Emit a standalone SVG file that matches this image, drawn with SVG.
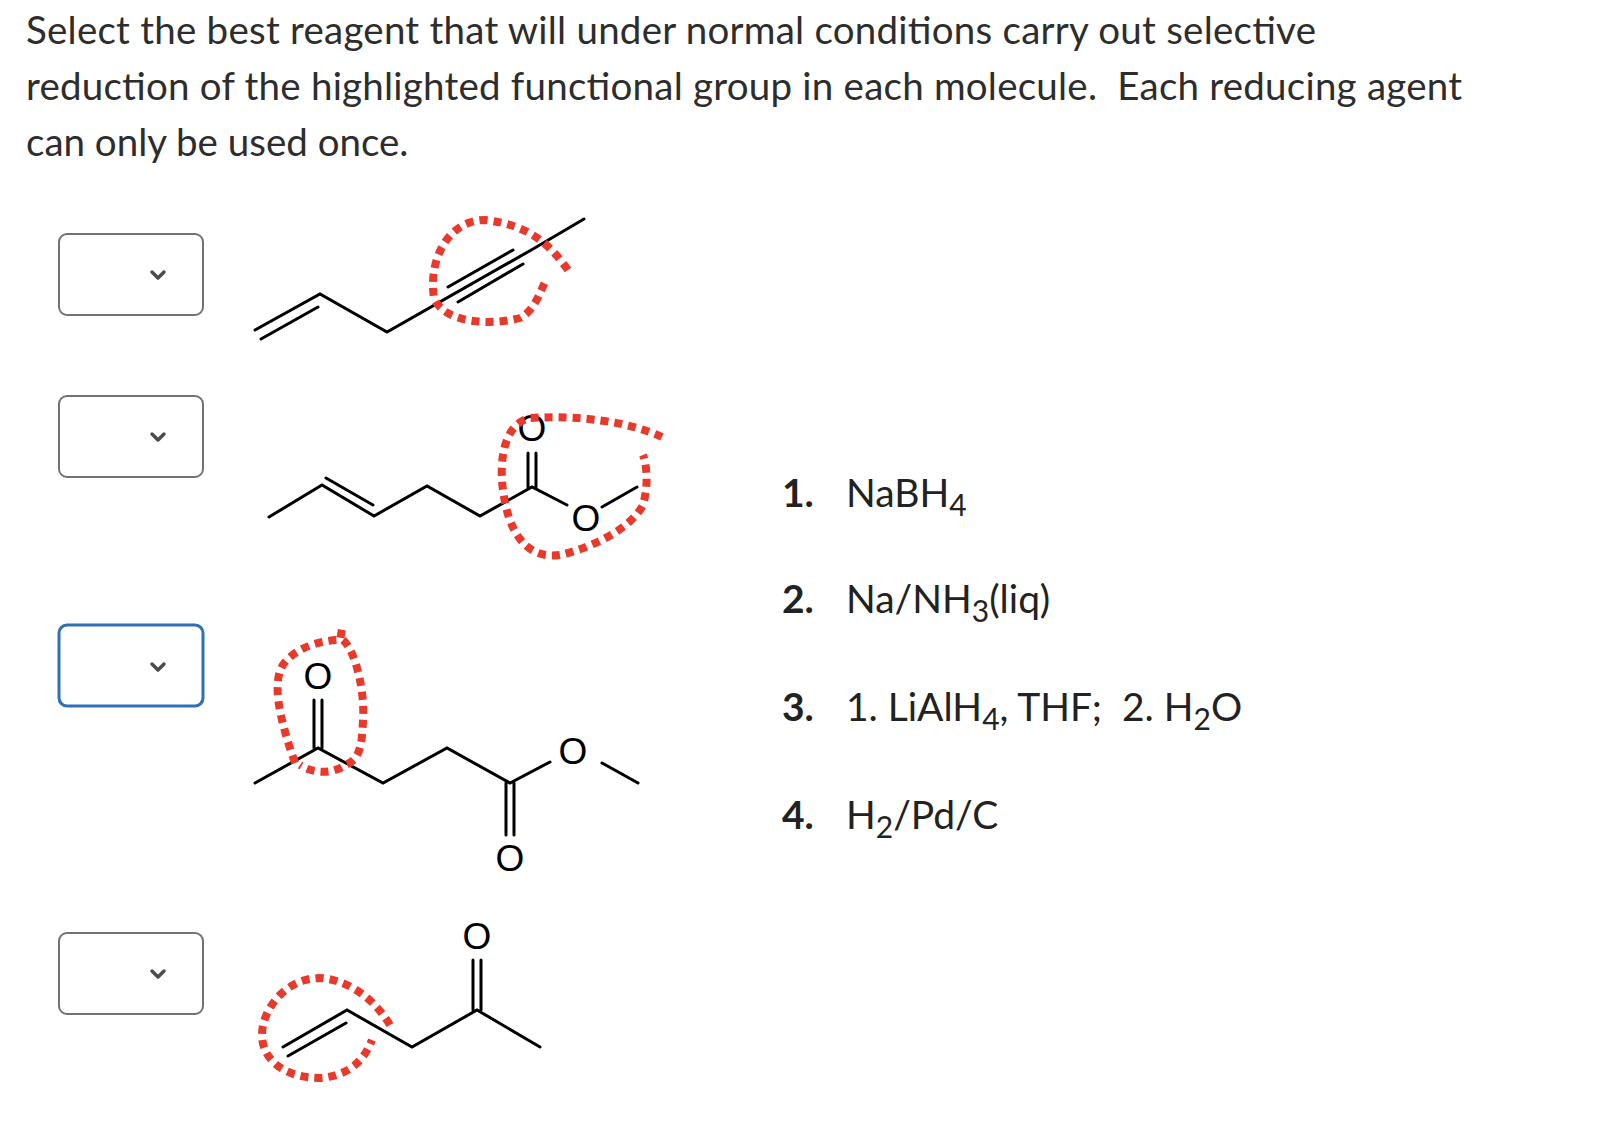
<svg xmlns="http://www.w3.org/2000/svg" width="1624" height="1124" viewBox="0 0 1624 1124">
<style>
.t{font-family:Lato,"Open Sans",sans-serif;font-size:38.5px;fill:#2d2d2d}
.l{font-family:Lato,"Open Sans",sans-serif;font-size:39px;fill:#222}
.n{font-weight:bold}
.b{fill:#fff;stroke:#6f7276;stroke-width:2}
.chev{fill:none;stroke:#494c50;stroke-width:3.5;stroke-linecap:round;stroke-linejoin:round}
.bd{stroke:#000;stroke-width:3;fill:none;stroke-linecap:round}
.o{font-family:"Liberation Sans",Arial,sans-serif;font-size:37px;fill:#000;text-anchor:middle}
.r{fill:none;stroke:#e8392a;stroke-width:8;stroke-dasharray:8 6}
</style>
<rect width="1624" height="1124" fill="#fff"/>
<text class="t" x="26" y="44" textLength="1290" lengthAdjust="spacing">Select the best reagent that will under normal conditions carry out selective</text>
<text class="t" x="26" y="100" textLength="1436" lengthAdjust="spacing">reduction of the highlighted functional group in each molecule.&#160; Each reducing agent</text>
<text class="t" x="26" y="156">can only be used once.</text>

<g id="box1"><rect class="b" x="59" y="234" width="144" height="81" rx="8"/><path class="chev" d="M152 272l6 6 6-6"/></g>
<g id="box2"><rect class="b" x="59" y="396" width="144" height="81" rx="8"/><path class="chev" d="M152 434l6 6 6-6"/></g>
<g id="box3"><rect x="59" y="625" width="144" height="81" rx="8" fill="#fff" stroke="#2f6fba" stroke-width="3"/><path class="chev" d="M152 664l6 6 6-6"/></g>
<g id="box4"><rect class="b" x="59" y="933" width="144" height="81" rx="8"/><path class="chev" d="M152 971l6 6 6-6"/></g>

<g id="mol1">
<path class="bd" d="M255 330L320 294L387 332L533 249L584 219M261 339L318 307M448 287L513 250M458 302L523 264"/>
<path class="r" d="M568 270C550 245 530 225 485 220C448 220 428 260 434 298C445 325 495 325 520 318C535 310 540 292 546 280"/>
</g>
<g id="mol2">
<path class="bd" d="M269 517L322 485L374 516L427 486L480 516L532 487L567 505M326 478L373 505M528 487L528 453M536 487L536 453M602 507L637 487"/>
<text class="o" x="532" y="441">O</text>
<text class="o" x="586" y="531">O</text>
<path class="r" d="M662 437C630 422 580 415 530 418C500 425 500 470 503 490C508 530 525 560 560 555C590 548 630 530 643 505C650 480 645 460 643 455"/>
</g>
<g id="mol3">
<path class="bd" d="M255 783L318 748L383 783L447 748L510 783L550 762M602 763L638 783M314 748L314 700M322 748L322 700M506 783L506 835M514 783L514 835"/>
<text class="o" x="318" y="689">O</text>
<text class="o" x="573" y="764">O</text>
<text class="o" x="510" y="871">O</text>
<path class="r" d="M295 763C280 720 270 680 285 662C300 645 325 640 340 640L343 624M343 640C355 650 365 690 363 720C362 745 360 760 345 765C335 773 315 775 300 765"/>
</g>
<g id="mol4">
<path class="bd" d="M283 1047L347 1010L412 1047L477 1010L540 1047M288 1056L346 1023M473 1010L473 960M481 1010L481 960"/>
<text class="o" x="477" y="949">O</text>
<path class="r" d="M390 1025C375 1000 350 980 320 978C285 978 262 1010 262 1035C262 1060 285 1078 320 1078C345 1076 362 1065 372 1040"/>
</g>

<g id="list">
<text class="l" x="782" y="507"><tspan class="n">1.</tspan><tspan x="846">NaBH</tspan><tspan font-size="30" dy="9">4</tspan></text>
<text class="l" x="782" y="613"><tspan class="n">2.</tspan><tspan x="846">Na/NH</tspan><tspan font-size="30" dy="9">3</tspan><tspan dy="-9">(liq)</tspan></text>
<text class="l" x="782" y="721"><tspan class="n">3.</tspan><tspan x="846">1. LiAlH</tspan><tspan font-size="30" dy="9">4</tspan><tspan dy="-9">, THF;&#160; 2. H</tspan><tspan font-size="30" dy="9">2</tspan><tspan dy="-9">O</tspan></text>
<text class="l" x="782" y="829"><tspan class="n">4.</tspan><tspan x="846">H</tspan><tspan font-size="30" dy="9">2</tspan><tspan dy="-9">/Pd/C</tspan></text>
</g>
</svg>
